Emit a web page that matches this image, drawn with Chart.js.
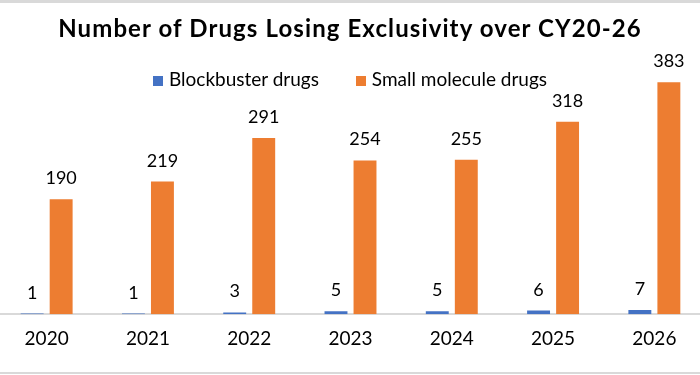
<!DOCTYPE html>
<html>
<head>
<meta charset="utf-8">
<script src="https://cdn.jsdelivr.net/npm/chart.js@4"></script>
<style>
    body { margin: 0; width: 700px; height: 375px; overflow: hidden; background: #fff; font-family: Lato, sans-serif; position: relative; }
    #cadre_haut { position: absolute; left: 0; top: 0; width: 700px; height: 3px; background: #d9d9d9; }
    #cadre_bas { position: absolute; left: 0; top: 372px; width: 700px; height: 2px; background: #d9d9d9; }
    #titre { position: absolute; left: 0; top: 13px; width: 700px; text-align: center; font-size: 24px; font-weight: bold; letter-spacing: 1.1px; color: #000; }
    #legende { position: absolute; left: 0; top: 67px; width: 700px; text-align: center; font-size: 19px; color: #000; }
    .item { display: inline-block; margin: 0 16px; }
    .carre { display: inline-block; width: 10px; height: 10px; margin-right: 6px; }
    #boite { position: absolute; left: -4px; top: 0; width: 709px; height: 375px; }
</style>
</head>
<body>
<div id="cadre_haut"></div>
<div id="cadre_bas"></div>
<div id="boite"><canvas id="chart_exclusividade" width="709" height="375"></canvas></div>
<div id="titre">Number of Drugs Losing Exclusivity over CY20-26</div>
<div id="legende">
    <span class="item"><span class="carre" style="background:#4472C4"></span>Blockbuster drugs</span>
    <span class="item"><span class="carre" style="background:#ED7D31"></span>Small molecule drugs</span>
</div>
<script>
var anos = ['2020', '2021', '2022', '2023', '2024', '2025', '2026'];
var blockbuster = [1, 1, 3, 5, 5, 6, 7];
var pequenas_moleculas = [190, 219, 291, 254, 255, 318, 383];

// rótulos de valor em cima de cada barra
var rotulos = {
    id: 'rotulos',
    afterDatasetsDraw: function (chart) {
        var ctx = chart.ctx;
        ctx.save();
        ctx.font = '18px Lato';
        ctx.fillStyle = '#000';
        ctx.textAlign = 'center';
        ctx.textBaseline = 'alphabetic';
        chart.data.datasets.forEach(function (ds, i) {
            chart.getDatasetMeta(i).data.forEach(function (barra, j) {
                ctx.fillText(ds.data[j], barra.x, barra.y - 15);
            });
        });
        ctx.restore();
    }
};

function criarGrafico() {
    const ctx = document.getElementById('chart_exclusividade');

    new Chart(ctx, {
        type: 'bar',
        data: {
            labels: anos,
            datasets: [{
                label: 'Blockbuster drugs',
                data: blockbuster,
                backgroundColor: '#4472C4',
                categoryPercentage: 0.573,
                barPercentage: 0.79
            }, {
                label: 'Small molecule drugs',
                data: pequenas_moleculas,
                backgroundColor: '#ED7D31',
                categoryPercentage: 0.573,
                barPercentage: 0.79
            }]
        },
        options: {
            responsive: false,
            animation: false,
            layout: {
                padding: { top: 72, bottom: 20, left: 0, right: 0 }
            },
            scales: {
                y: {
                    display: false,
                    min: 0,
                    max: 400
                },
                x: {
                    ticks: {
                        color: '#000',
                        padding: 5,
                        font: { family: 'Lato', size: 19 }
                    },
                    grid: { display: false },
                    border: { color: '#d9d9d9', width: 2 }
                }
            },
            plugins: {
                legend: { display: false },
                title: { display: false },
                tooltip: { enabled: false }
            }
        },
        plugins: [rotulos]
    });
}

criarGrafico();
</script>
</body>
</html>
